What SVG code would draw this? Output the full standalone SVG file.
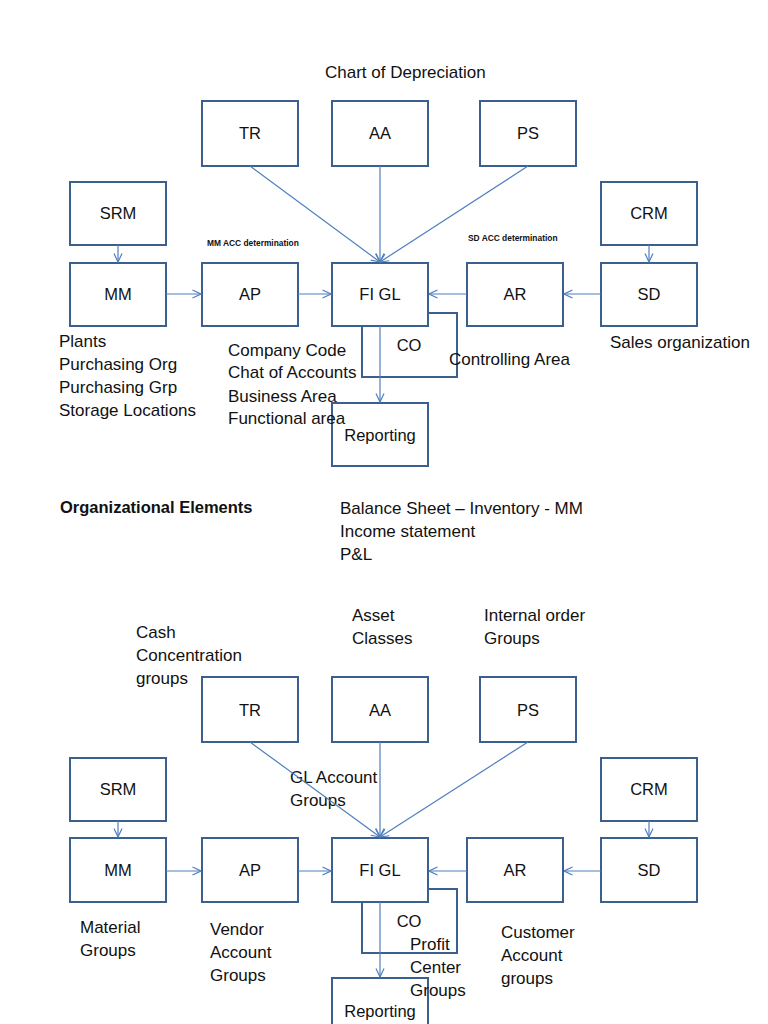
<svg xmlns="http://www.w3.org/2000/svg" width="768" height="1024" viewBox="0 0 768 1024">
<style>
.box{fill:#fff;stroke:#3b5f8f;stroke-width:2}
.co{fill:none;stroke:#3b5f8f;stroke-width:2}
.lbl{font-family:"Liberation Sans",Arial,sans-serif;font-size:16.5px;fill:#111;text-anchor:middle}
.t{font-family:"Liberation Sans",Arial,sans-serif;font-size:17px;fill:#111}
.b{font-weight:bold;font-size:16.5px}
.s{font-family:"Liberation Sans",Arial,sans-serif;font-size:8.4px;font-weight:bold;fill:#111}
.conn line{stroke:#4f7fbf;stroke-width:1.2;marker-end:url(#ah)}
</style>
<defs>
<marker id="ah" viewBox="0 0 10 10" refX="9.5" refY="5" markerWidth="10" markerHeight="10" markerUnits="userSpaceOnUse" orient="auto">
<path d="M1,1 L9.5,5 L1,9" fill="none" stroke="#4f7fbf" stroke-width="1.2"/>
</marker>
</defs>
<rect width="768" height="1024" fill="#fff"/>

<!-- TOP DIAGRAM -->
<text class="t" x="325" y="78">Chart of Depreciation</text>
<g id="co-top"><path class="co" d="M428,313 H457 V377 H362 V326"/><text class="lbl" x="409" y="351">CO</text></g>
<g id="tr-top"><rect class="box" x="202" y="101" width="96" height="65"/><text class="lbl" x="250" y="139">TR</text></g>
<g id="aa-top"><rect class="box" x="332" y="101" width="96" height="65"/><text class="lbl" x="380" y="139">AA</text></g>
<g id="ps-top"><rect class="box" x="480" y="101" width="96" height="65"/><text class="lbl" x="528" y="139">PS</text></g>
<g id="srm-top"><rect class="box" x="70" y="182" width="96" height="63"/><text class="lbl" x="118" y="219">SRM</text></g>
<g id="crm-top"><rect class="box" x="601" y="182" width="96" height="63"/><text class="lbl" x="649" y="219">CRM</text></g>
<g id="mm-top"><rect class="box" x="70" y="263" width="96" height="63"/><text class="lbl" x="118" y="300">MM</text></g>
<g id="ap-top"><rect class="box" x="202" y="263" width="96" height="63"/><text class="lbl" x="250" y="300">AP</text></g>
<g id="figl-top"><rect class="box" x="332" y="263" width="96" height="63"/><text class="lbl" x="380" y="300">FI GL</text></g>
<g id="ar-top"><rect class="box" x="467" y="263" width="96" height="63"/><text class="lbl" x="515" y="300">AR</text></g>
<g id="sd-top"><rect class="box" x="601" y="263" width="96" height="63"/><text class="lbl" x="649" y="300">SD</text></g>
<g id="rep-top"><rect class="box" x="332" y="403" width="96" height="63"/><text class="lbl" x="380" y="441">Reporting</text></g>

<text class="s" x="207" y="246">MM ACC determination</text>
<text class="s" x="468" y="241">SD  ACC determination</text>

<text class="t" x="59" y="347">Plants</text>
<text class="t" x="59" y="370">Purchasing Org</text>
<text class="t" x="59" y="393">Purchasing Grp</text>
<text class="t" x="59" y="416">Storage Locations</text>
<text class="t" x="228" y="356">Company Code</text>
<text class="t" x="228" y="378">Chat of Accounts</text>
<text class="t" x="228" y="402">Business Area</text>
<text class="t" x="228" y="424">Functional area</text>
<text class="t" x="449" y="365">Controlling Area</text>
<text class="t" x="610" y="348">Sales organization</text>

<text class="t b" x="60" y="513">Organizational Elements</text>
<text class="t" x="340" y="514">Balance Sheet – Inventory - MM</text>
<text class="t" x="340" y="537">Income statement</text>
<text class="t" x="340" y="560">P&amp;L</text>

<!-- BOTTOM DIAGRAM -->
<text class="t" x="136" y="638">Cash</text>
<text class="t" x="136" y="661">Concentration</text>
<text class="t" x="136" y="684">groups</text>
<text class="t" x="352" y="621">Asset</text>
<text class="t" x="352" y="644">Classes</text>
<text class="t" x="484" y="621">Internal order</text>
<text class="t" x="484" y="644">Groups</text>

<g id="co-bot"><path class="co" d="M428,889 H457 V953 H362 V902"/><text class="lbl" x="409" y="927">CO</text></g>
<g id="tr-bot"><rect class="box" x="202" y="677" width="96" height="65"/><text class="lbl" x="250" y="716">TR</text></g>
<g id="aa-bot"><rect class="box" x="332" y="677" width="96" height="65"/><text class="lbl" x="380" y="716">AA</text></g>
<g id="ps-bot"><rect class="box" x="480" y="677" width="96" height="65"/><text class="lbl" x="528" y="716">PS</text></g>
<g id="srm-bot"><rect class="box" x="70" y="758" width="96" height="63"/><text class="lbl" x="118" y="795">SRM</text></g>
<g id="crm-bot"><rect class="box" x="601" y="758" width="96" height="63"/><text class="lbl" x="649" y="795">CRM</text></g>
<g id="mm-bot"><rect class="box" x="70" y="838" width="96" height="64"/><text class="lbl" x="118" y="876">MM</text></g>
<g id="ap-bot"><rect class="box" x="202" y="838" width="96" height="64"/><text class="lbl" x="250" y="876">AP</text></g>
<g id="figl-bot"><rect class="box" x="332" y="838" width="96" height="64"/><text class="lbl" x="380" y="876">FI GL</text></g>
<g id="ar-bot"><rect class="box" x="467" y="838" width="96" height="64"/><text class="lbl" x="515" y="876">AR</text></g>
<g id="sd-bot"><rect class="box" x="601" y="838" width="96" height="64"/><text class="lbl" x="649" y="876">SD</text></g>
<g id="rep-bot"><rect class="box" x="332" y="978" width="96" height="63"/><text class="lbl" x="380" y="1017">Reporting</text></g>

<text class="t" x="290" y="783">GL Account</text>
<text class="t" x="290" y="806">Groups</text>
<text class="t" x="80" y="933">Material</text>
<text class="t" x="80" y="956">Groups</text>
<text class="t" x="210" y="935">Vendor</text>
<text class="t" x="210" y="958">Account</text>
<text class="t" x="210" y="981">Groups</text>
<text class="t" x="410" y="950">Profit</text>
<text class="t" x="410" y="973">Center</text>
<text class="t" x="410" y="996">Groups</text>
<text class="t" x="501" y="938">Customer</text>
<text class="t" x="501" y="961">Account</text>
<text class="t" x="501" y="984">groups</text>

<g id="connectors" class="conn">
<line x1="250" y1="166" x2="380" y2="262"/>
<line x1="380" y1="166" x2="380" y2="262"/>
<line x1="528" y1="166" x2="380" y2="262"/>
<line x1="118" y1="245" x2="118" y2="262"/>
<line x1="649" y1="245" x2="649" y2="262"/>
<line x1="166" y1="294" x2="201" y2="294"/>
<line x1="298" y1="294" x2="331" y2="294"/>
<line x1="467" y1="294" x2="429" y2="294"/>
<line x1="601" y1="294" x2="564" y2="294"/>
<line x1="380" y1="326" x2="380" y2="402"/>
<line x1="250" y1="742" x2="380" y2="837"/>
<line x1="380" y1="742" x2="380" y2="837"/>
<line x1="528" y1="742" x2="380" y2="837"/>
<line x1="118" y1="821" x2="118" y2="837"/>
<line x1="649" y1="821" x2="649" y2="837"/>
<line x1="166" y1="871" x2="201" y2="871"/>
<line x1="298" y1="871" x2="331" y2="871"/>
<line x1="467" y1="871" x2="429" y2="871"/>
<line x1="601" y1="871" x2="564" y2="871"/>
<line x1="380" y1="902" x2="380" y2="977"/>
</g>
</svg>
